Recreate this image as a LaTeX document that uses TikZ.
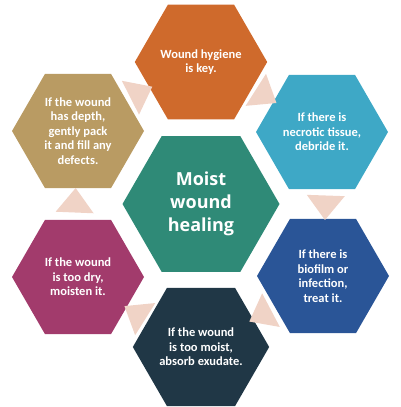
\documentclass[tikz,border=0pt]{standalone}
\usepackage{fontspec}
\setmainfont{Carlito}
\newfontfamily\centerfont{Open Sans}
\usetikzlibrary{shapes.geometric,calc}
\definecolor{hxorange}{HTML}{CF6A2C}
\definecolor{hxcyan}{HTML}{3EA8C6}
\definecolor{hxblue}{HTML}{2A5597}
\definecolor{hxnavy}{HTML}{203746}
\definecolor{hxmagenta}{HTML}{A23B6C}
\definecolor{hxtan}{HTML}{B99B63}
\definecolor{hxgreen}{HTML}{2F8A77}
\definecolor{trifill}{HTML}{F0D3C6}
\newcommand\cwtri[2]{%
  \path ($(#1)!0.5!(#2)$) coordinate (mm);
  \path ($(mm)!-3pt!(c)$) coordinate (mc);
  \path ($(mc)!16pt!(#2)$) coordinate (ap);
  \path ($(mc)!-8.5pt!(#2)$) coordinate (bc);
  \fill[tri] (ap) -- ($(bc)!19pt!90:(mc)$) -- ($(bc)!19pt!-90:(mc)$) -- cycle;
}
\begin{document}
\begin{tikzpicture}[x=1pt,y=-1pt,
  hexa/.style={regular polygon, regular polygon sides=6, inner sep=0pt, outer sep=0pt,
    minimum size=132pt, text=white, align=center,
    font=\bfseries\fontsize{12.5}{14.5}\selectfont},
  centerhex/.style={hexa, minimum size=157pt, font=\centerfont\bfseries\fontsize{18}{23}\selectfont},
  tri/.style={fill=trifill}]
\useasboundingbox (0,0) rectangle (400,407);
\node[centerhex, fill=hxgreen] (c) at (201,204) {Moist\\wound\\healing};
\node[hexa, fill=hxorange] (t) at (201,62) {Wound hygiene\\is key.};
\node[hexa, fill=hxcyan] (tr) at (322,132) {If there is\\necrotic tissue,\\debride it.};
\node[hexa, fill=hxblue] (br) at (323,276) {If there is\\biofilm or\\infection,\\treat it.};
\node[hexa, fill=hxnavy] (b) at (201,347) {If the wound\\is too moist,\\absorb exudate.};
\node[hexa, fill=hxmagenta] (bl) at (78,277) {If the wound\\is too dry,\\moisten it.};
\node[hexa, fill=hxtan] (tl) at (78,131) {If the wound\\has depth,\\gently pack\\it and fill any\\defects.};
\cwtri{t}{tr}
\cwtri{tr}{br}
\cwtri{br}{b}
\cwtri{b}{bl}
\cwtri{bl}{tl}
\cwtri{tl}{t}
\end{tikzpicture}
\end{document}
